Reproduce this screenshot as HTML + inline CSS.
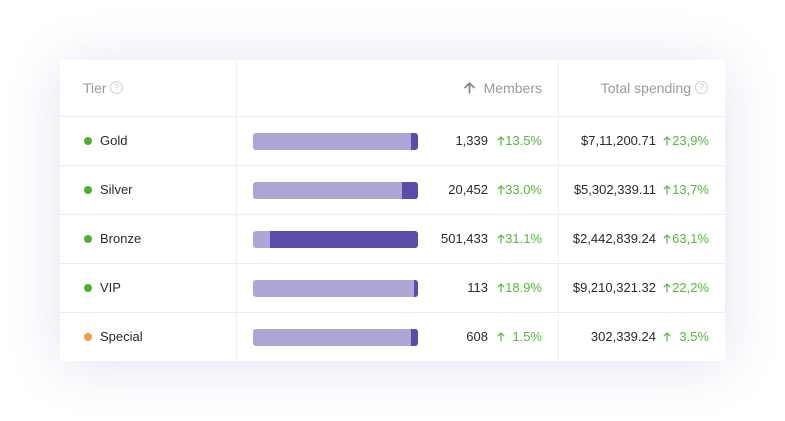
<!DOCTYPE html>
<html><head><meta charset="utf-8"><style>
html,body{margin:0;padding:0;background:#fff;width:785px;height:421px;overflow:hidden;font-family:"Liberation Sans",Arial,sans-serif;}
.card{position:absolute;left:60px;top:60px;width:665px;height:301px;background:#fff;box-shadow:0 4px 52px rgba(80,70,170,0.16);}
.hl{position:absolute;left:60px;width:665px;height:1px;background:#ececec;}
.vl{position:absolute;top:60px;width:1px;height:301px;background:#efefef;}
.t{position:absolute;height:16px;line-height:16px;font-size:13px;color:#2a2a2a;white-space:nowrap;}
.r{text-align:right;}
.g{color:#55b83c;}
.h{color:#9a9a9a;font-size:14px;}
.dot{position:absolute;width:8px;height:8px;border-radius:50%;}
.bar{position:absolute;left:253px;width:165px;height:17px;border-radius:3px;background:#ada5d5;overflow:hidden;}
.bar i{position:absolute;right:0;top:0;height:17px;background:#5c4ca9;}
.q{position:absolute;width:11px;height:11px;border:1.3px solid #d2d2d2;border-radius:50%;color:#c8c8c8;font-size:9px;line-height:11px;text-align:center;}
svg{position:absolute;}
</style></head><body>
<div class="card"></div>
<div class="hl" style="top:116px"></div>
<div class="hl" style="top:165px"></div>
<div class="hl" style="top:214px"></div>
<div class="hl" style="top:263px"></div>
<div class="hl" style="top:312px"></div>
<div class="vl" style="left:236px"></div>
<div class="vl" style="left:558px"></div>

<!-- header -->
<div class="t h" style="left:83px;top:80px">Tier</div>
<div class="q" style="left:110px;top:81px">?</div>
<svg style="left:463px;top:82px" width="13" height="12" viewBox="0 0 13 12"><path d="M6.5 11.5V1.2M1.5 6L6.5 1.2L11.5 6" fill="none" stroke="#858585" stroke-width="1.7"/></svg>
<div class="t h r" style="right:243px;top:80px">Members</div>
<div class="t h r" style="right:94px;top:80px">Total spending</div>
<div class="q" style="left:695px;top:81px">?</div>

<!-- rows -->
<div class="dot" style="left:84px;top:137px;background:#4caf30"></div>
<div class="t" style="left:100px;top:133px">Gold</div>
<div class="bar" style="top:133px"><i style="width:7px"></i></div>
<div class="t r" style="right:297px;top:133px">1,339</div>
<svg style="left:497px;top:136px" width="8" height="10" viewBox="0 0 8 10"><path d="M4 9.5V1M0.8 4.2L4 1L7.2 4.2" fill="none" stroke="#55b83c" stroke-width="1.2"/></svg>
<div class="t g r" style="right:243px;top:133px">13.5%</div>
<div class="t r" style="right:129px;top:133px">$7,11,200.71</div>
<svg style="left:663px;top:136px" width="8" height="10" viewBox="0 0 8 10"><path d="M4 9.5V1M0.8 4.2L4 1L7.2 4.2" fill="none" stroke="#55b83c" stroke-width="1.2"/></svg>
<div class="t g r" style="right:76px;top:133px">23,9%</div>

<div class="dot" style="left:84px;top:186px;background:#4caf30"></div>
<div class="t" style="left:100px;top:182px">Silver</div>
<div class="bar" style="top:182px"><i style="width:16px"></i></div>
<div class="t r" style="right:297px;top:182px">20,452</div>
<svg style="left:497px;top:185px" width="8" height="10" viewBox="0 0 8 10"><path d="M4 9.5V1M0.8 4.2L4 1L7.2 4.2" fill="none" stroke="#55b83c" stroke-width="1.2"/></svg>
<div class="t g r" style="right:243px;top:182px">33.0%</div>
<div class="t r" style="right:129px;top:182px">$5,302,339.11</div>
<svg style="left:663px;top:185px" width="8" height="10" viewBox="0 0 8 10"><path d="M4 9.5V1M0.8 4.2L4 1L7.2 4.2" fill="none" stroke="#55b83c" stroke-width="1.2"/></svg>
<div class="t g r" style="right:76px;top:182px">13,7%</div>

<div class="dot" style="left:84px;top:235px;background:#4caf30"></div>
<div class="t" style="left:100px;top:231px">Bronze</div>
<div class="bar" style="top:231px"><i style="width:148px"></i></div>
<div class="t r" style="right:297px;top:231px">501,433</div>
<svg style="left:497px;top:234px" width="8" height="10" viewBox="0 0 8 10"><path d="M4 9.5V1M0.8 4.2L4 1L7.2 4.2" fill="none" stroke="#55b83c" stroke-width="1.2"/></svg>
<div class="t g r" style="right:243px;top:231px">31.1%</div>
<div class="t r" style="right:129px;top:231px">$2,442,839.24</div>
<svg style="left:663px;top:234px" width="8" height="10" viewBox="0 0 8 10"><path d="M4 9.5V1M0.8 4.2L4 1L7.2 4.2" fill="none" stroke="#55b83c" stroke-width="1.2"/></svg>
<div class="t g r" style="right:76px;top:231px">63,1%</div>

<div class="dot" style="left:84px;top:284px;background:#4caf30"></div>
<div class="t" style="left:100px;top:280px">VIP</div>
<div class="bar" style="top:280px"><i style="width:4px"></i></div>
<div class="t r" style="right:297px;top:280px">113</div>
<svg style="left:497px;top:283px" width="8" height="10" viewBox="0 0 8 10"><path d="M4 9.5V1M0.8 4.2L4 1L7.2 4.2" fill="none" stroke="#55b83c" stroke-width="1.2"/></svg>
<div class="t g r" style="right:243px;top:280px">18.9%</div>
<div class="t r" style="right:129px;top:280px">$9,210,321.32</div>
<svg style="left:663px;top:283px" width="8" height="10" viewBox="0 0 8 10"><path d="M4 9.5V1M0.8 4.2L4 1L7.2 4.2" fill="none" stroke="#55b83c" stroke-width="1.2"/></svg>
<div class="t g r" style="right:76px;top:280px">22,2%</div>

<div class="dot" style="left:84px;top:333px;background:#f39a48"></div>
<div class="t" style="left:100px;top:329px">Special</div>
<div class="bar" style="top:329px"><i style="width:7px"></i></div>
<div class="t r" style="right:297px;top:329px">608</div>
<svg style="left:497px;top:332px" width="8" height="10" viewBox="0 0 8 10"><path d="M4 9.5V1M0.8 4.2L4 1L7.2 4.2" fill="none" stroke="#55b83c" stroke-width="1.2"/></svg>
<div class="t g r" style="right:243px;top:329px">1.5%</div>
<div class="t r" style="right:129px;top:329px">302,339.24</div>
<svg style="left:663px;top:332px" width="8" height="10" viewBox="0 0 8 10"><path d="M4 9.5V1M0.8 4.2L4 1L7.2 4.2" fill="none" stroke="#55b83c" stroke-width="1.2"/></svg>
<div class="t g r" style="right:76px;top:329px">3.5%</div>
</body></html>
